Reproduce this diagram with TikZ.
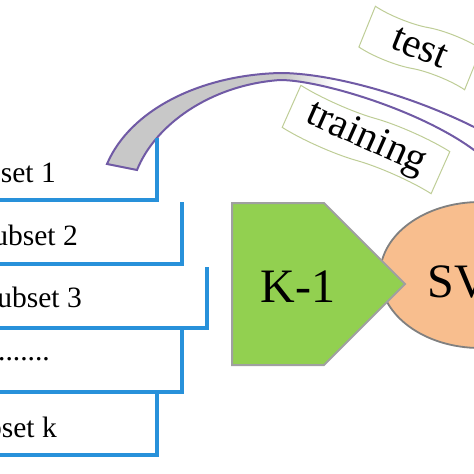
\documentclass[tikz,border=0pt]{standalone}
\usepackage{fontspec}
\setmainfont{Liberation Serif}
\usepackage{tikz}
\usetikzlibrary{shapes.geometric, shapes.symbols}
\definecolor{subsetblue}{RGB}{40,145,218}
\definecolor{kgreen}{RGB}{146,208,80}
\definecolor{svmorange}{RGB}{248,190,142}
\definecolor{bandpurple}{RGB}{112,90,165}
\definecolor{bandgray}{RGB}{200,200,200}
\definecolor{tapeolive}{RGB}{190,205,150}
\definecolor{edgegray}{RGB}{128,128,128}

\newcommand{\foldband}{(107,164) .. controls (130,110) and (200,75) .. (280,73)
  .. controls (330,73) and (410,95) .. (474,127) -- (540,160) -- (522,186) -- (474,150)
  .. controls (420,110) and (320,80) .. (280,80)
  .. controls (210,85) and (155,125) .. (137,170) -- cycle}

\begin{document}
\begin{tikzpicture}[
    x=1pt, y=-1pt,
    subtext/.style={font=\fontsize{29.5}{32}\selectfont, inner sep=0pt},
    bigtext/.style={font=\fontsize{48}{50}\selectfont, inner sep=0pt},
    subline/.style={draw=subsetblue, line width=4pt},
    label tape/.style={tape, draw=tapeolive, line width=1pt, tape bend top=in and out, tape bend bottom=in and out, tape bend height=5pt, font=\fontsize{41}{44}\selectfont, inner sep=0pt}
]
\useasboundingbox (0,0) rectangle (474,474);

% curved band
\begin{scope}
  \clip \foldband;
  \fill[bandgray] (100,60) rectangle (285,200);
  \shade[left color=bandgray, right color=white] (285,60) rectangle (335,200);
\end{scope}
\draw[bandpurple, line width=2pt] \foldband;

% subsets
\draw[subline] (157,138) |- (-5,200);
\draw[subline] (182,202) |- (-5,264);
\draw[subline] (207,267) |- (-5,328);
\draw[subline] (182,328) |- (-5,392);
\draw[subline] (157,392) |- (-5,455);
\node[subtext, anchor=base east] (sub1) at (56,182) {Subset 1};
\node[subtext, anchor=base east] (sub2) at (78,245) {Subset 2};
\node[subtext, anchor=base east] (sub3) at (82,307) {Subset 3};
\node[subtext, anchor=base east] (subdots) at (50,360) {..........};
\node[subtext, anchor=base east] (subk) at (57,437) {Subset k};

% SVM and K-1
\node[ellipse, draw=edgegray, line width=1.8pt, fill=svmorange, minimum width=200pt, minimum height=146pt] (svm) at (480,275) {};
\node[bigtext, anchor=base] (svmtext) at (480,297) {SVM};
\draw[fill=kgreen, draw=edgegray!75, line width=2pt] (232,203) -- (324,203) -- (405,284) -- (324,365) -- (232,365) -- cycle;
\node[bigtext, anchor=base] (k1) at (298,302) {K-1};

% labels
\node[label tape, minimum width=163pt, minimum height=51pt, rotate=-24] (training) at (366,139.5) {training};
\node[label tape, minimum width=114pt, minimum height=49pt, rotate=-22] (test) at (420,48) {test};
\end{tikzpicture}
\end{document}
